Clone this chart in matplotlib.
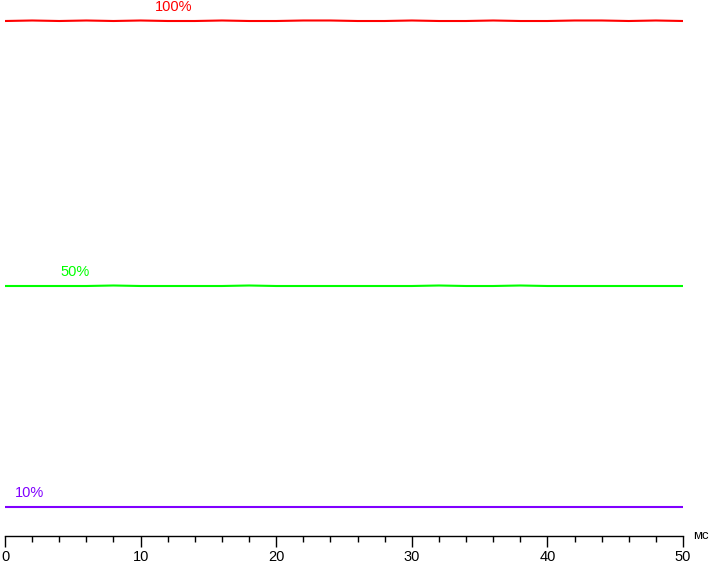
import matplotlib
matplotlib.use("Agg")
import matplotlib.pyplot as plt
import numpy as np

plt.rcParams['font.family'] = ['Liberation Sans', 'DejaVu Sans']

### time samples (ms) and levels (arbitrary units, axis = 0)
t = [0, 2, 4, 6, 8, 10, 12, 14, 16, 18, 20, 22, 24, 26, 28, 30, 32, 34, 36, 38, 40, 42, 44, 46, 48, 50]
red_100 = [515, 515.5, 515, 515.5, 515, 515.5, 515, 515, 515.5, 515, 515, 515.5, 515.5, 515, 515, 515.5,
           515, 515, 515.5, 515, 515, 515.5, 515.5, 515, 515.5, 515]
green_50 = [250, 250, 250, 250, 250.5, 250, 250, 250, 250, 250.5, 250, 250, 250, 250, 250, 250,
            250.5, 250, 250, 250.5, 250, 250, 250, 250, 250, 250]
purple_10 = [29] * len(t)

levels = ['100%', '50%', '10%']
label_x = [12.4, 5.2, 1.8]
colors = ['#ff0000', '#00ff00', '#8000ff']

fig = plt.figure(figsize=(7.11, 5.63), dpi=100)
ax = fig.add_axes([5 / 711, 27 / 563, 678 / 711, 536 / 563])

series = [red_100, green_50, purple_10]
for y, c, lab, lx in zip(series, colors, levels, label_x):
    ax.plot(t, y, color=c, lw=1.5, solid_capstyle='butt')
    ax.text(lx, y[0] + 7, lab, color=c, fontsize=10.5, ha='center', va='bottom')

ax.set_xlim(0, 50)
ax.set_ylim(0, 536)

for s in ['top', 'right', 'left']:
    ax.spines[s].set_visible(False)
ax.spines['bottom'].set_linewidth(1)
ax.set_yticks([])
ax.set_xticks(np.arange(0, 51, 10))
ax.set_xticks(np.arange(0, 51, 2), minor=True)
ax.tick_params(axis='x', which='major', length=8, width=1, labelsize=10.5, pad=2)
ax.tick_params(axis='x', which='minor', length=4.3, width=1)
ax.patch.set_visible(False)

ax.annotate('мс', xy=(1, 0), xycoords='axes fraction', xytext=(10, 0),
            textcoords='offset pixels', ha='left', va='center', fontsize=9.5)

fig.savefig('out.png', dpi=100)
